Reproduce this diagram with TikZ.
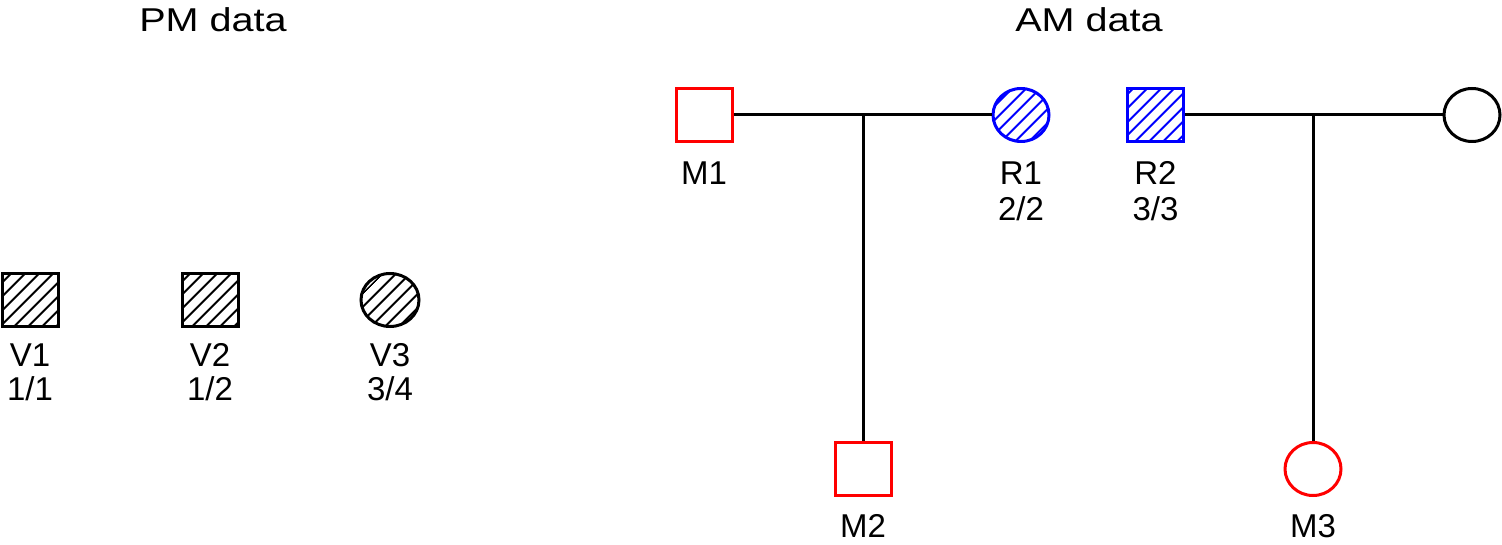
\documentclass[tikz,border=0pt]{standalone}
\usepackage{fontspec}
\setmainfont{Liberation Sans}
\newfontfamily\titlefont[FakeStretch=1.2]{Liberation Sans}
\usetikzlibrary{patterns.meta,shapes.geometric}
\definecolor{pedred}{RGB}{255,0,0}
\definecolor{pedblue}{RGB}{0,0,255}
\tikzset{
  male/.style={draw, rectangle, minimum width=56pt, minimum height=53pt, inner sep=0pt, line width=3pt},
  female/.style={draw, ellipse, minimum width=56pt, minimum height=53pt, inner sep=0pt, line width=3pt},
  hatch/.style={pattern={Lines[angle=45,distance=10.5pt,line width=2.3pt]}, pattern color=#1},
  lbl/.style={anchor=base, inner sep=0pt, font=\fontsize{33}{40}\selectfont},
  ttl/.style={anchor=base, inner sep=0pt, font=\titlefont\fontsize{33}{40}\selectfont},
  link/.style={line width=3pt}
}
\begin{document}
\begin{tikzpicture}[x=1pt,y=-1pt]
\useasboundingbox (0,0) rectangle (1502,545);
% titles
\node[ttl] (pmt) at (213,32) {PM data};
\node[ttl] (amt) at (1089,32) {AM data};
% PM data
\node[male, hatch=black] (V1) at (30,300) {};
\node[male, hatch=black] (V2) at (210,300) {};
\node[female, hatch=black, minimum width=58pt] (V3) at (390,300) {};
\node[lbl] (V1a) at (30,366) {V1};
\node[lbl] (V1b) at (30,400) {1/1};
\node[lbl] (V2a) at (210,366) {V2};
\node[lbl] (V2b) at (210,400) {1/2};
\node[lbl] (V3a) at (390,366) {V3};
\node[lbl] (V3b) at (390,400) {3/4};
% AM data
\node[male, pedred] (M1) at (704,115) {};
\node[female, pedblue, hatch=pedblue] (R1) at (1021,115) {};
\node[male, pedblue, hatch=pedblue] (R2) at (1155.5,115) {};
\node[female] (F) at (1472,115) {};
\node[male, pedred] (M2) at (863,469) {};
\node[female, pedred] (M3) at (1313,469) {};
\coordinate (j1) at (863,115);
\coordinate (j2) at (1313,115);
\draw[link] (M1.east) -- (R1.west);
\draw[link] (j1) -- (M2.north);
\draw[link] (R2.east) -- (F.west);
\draw[link] (j2) -- (M3.north);
\node[lbl] (M1a) at (704,185) {M1};
\node[lbl] (R1a) at (1021,185) {R1};
\node[lbl] (R1b) at (1021,221) {2/2};
\node[lbl] (R2a) at (1155.5,185) {R2};
\node[lbl] (R2b) at (1155.5,221) {3/3};
\node[lbl] (M2a) at (863,537) {M2};
\node[lbl] (M3a) at (1313,537) {M3};
\end{tikzpicture}
\end{document}
